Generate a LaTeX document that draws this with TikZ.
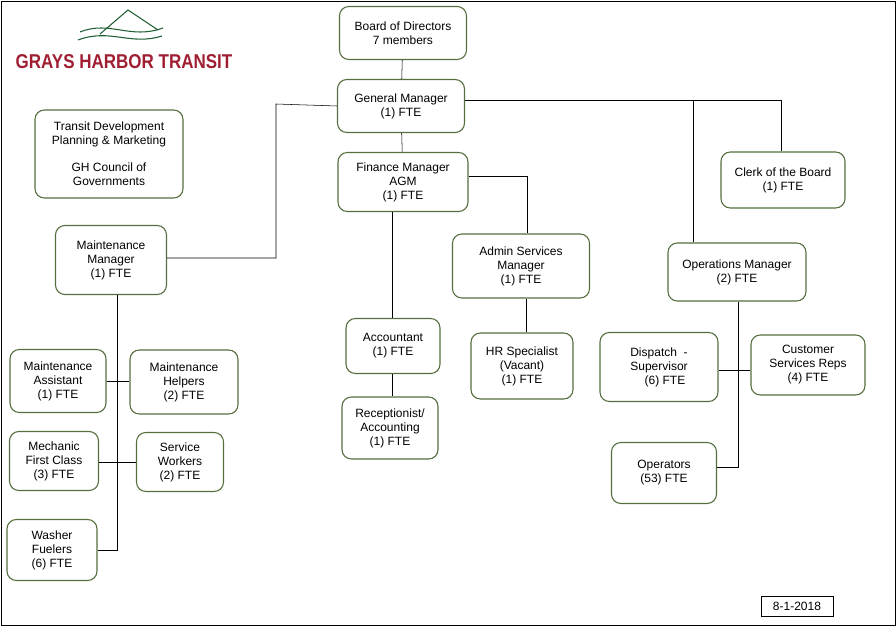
\documentclass[tikz,border=0pt]{standalone}
\usepackage{fontspec}
\setmainfont{Liberation Sans}
\usetikzlibrary{positioning}
\definecolor{boxgreen}{RGB}{84,110,62}
\definecolor{logored}{RGB}{160,30,50}
\definecolor{logogreen}{RGB}{30,95,50}
\begin{document}
\begin{tikzpicture}[
    x=0.75pt, y=-0.75pt,
    unit/.style={draw=boxgreen, thick, rounded corners=7pt, align=center,
      font=\fontsize{9}{10.5}\selectfont, inner sep=0pt},
    link/.style={thin, black},
    every node/.style={color=black}
    ]
\useasboundingbox (0,0) rectangle (896,627);
\draw (1,1) rectangle (895,625);

% logo
\draw[logogreen, thick] (100,34) -- (128,10) -- (158,30);
\draw[logogreen, thick] (80,32) .. controls (110,20) and (130,40) .. (163,28);
\draw[logogreen, thick] (78,40) .. controls (110,28) and (130,46) .. (162,36);
\node[font=\bfseries\fontsize{15}{15}\selectfont, text=logored, xscale=0.85] (logo) at (124,62) {GRAYS HARBOR TRANSIT};

% boxes
\node[unit, minimum width=127*0.75pt, minimum height=53*0.75pt] (board) at (403,33) {Board of Directors\\7 members};
\node[unit, minimum width=127*0.75pt, minimum height=53*0.75pt] (gm) at (401,106) {General Manager\\(1) FTE};
\node[unit, minimum width=130*0.75pt, minimum height=59*0.75pt] (fin) at (403,182) {Finance Manager\\AGM\\(1) FTE};
\node[unit, minimum width=124*0.75pt, minimum height=56*0.75pt] (clerk) at (783,180) {Clerk of the Board\\(1) FTE};
\node[unit, minimum width=148*0.75pt, minimum height=88*0.75pt] (tdp) at (109,154) {Transit Development\\Planning \& Marketing\\[10pt]GH Council of\\Governments};
\node[unit, minimum width=111*0.75pt, minimum height=69*0.75pt] (mm) at (111,260) {Maintenance\\Manager\\(1) FTE};
\node[unit, minimum width=137*0.75pt, minimum height=64*0.75pt] (admin) at (521,266) {Admin Services\\Manager\\(1) FTE};
\node[unit, minimum width=138*0.75pt, minimum height=58*0.75pt] (ops) at (737,272) {Operations Manager\\(2) FTE};
\node[unit, minimum width=94*0.75pt, minimum height=55*0.75pt] (acct) at (393,346) {Accountant\\(1) FTE};
\node[unit, minimum width=102*0.75pt, minimum height=66*0.75pt] (hr) at (522,366) {HR Specialist\\(Vacant)\\(1) FTE};
\node[unit, minimum width=96*0.75pt, minimum height=62*0.75pt] (recp) at (390,428) {Receptionist/\\Accounting\\(1) FTE};
\node[unit, minimum width=96*0.75pt, minimum height=63*0.75pt] (masst) at (58,381) {Maintenance\\Assistant\\(1) FTE};
\node[unit, minimum width=108*0.75pt, minimum height=64*0.75pt] (mhelp) at (184,382) {Maintenance\\Helpers\\(2) FTE};
\node[unit, minimum width=89*0.75pt, minimum height=59*0.75pt] (mech) at (54,461) {Mechanic\\First Class\\(3) FTE};
\node[unit, minimum width=87*0.75pt, minimum height=59*0.75pt] (serv) at (180,462) {Service\\Workers\\(2) FTE};
\node[unit, minimum width=90*0.75pt, minimum height=61*0.75pt] (wash) at (52,550) {Washer\\Fuelers\\(6) FTE};
\node[unit, minimum width=118*0.75pt, minimum height=69*0.75pt] (disp) at (659,367) {Dispatch \ -\\Supervisor\\\quad(6) FTE};
\node[unit, minimum width=114*0.75pt, minimum height=60*0.75pt] (csr) at (808,365) {Customer\\Services Reps\\(4) FTE};
\node[unit, minimum width=105*0.75pt, minimum height=61*0.75pt] (oper) at (664,473) {Operators\\(53) FTE};
\node[draw, thin, minimum width=72*0.75pt, minimum height=20*0.75pt, font=\fontsize{9}{10}\selectfont] (date) at (797,606) {8-1-2018};

% connectors
\draw[link] (board) -- (gm);
\draw[link] (gm) -- (fin);
\draw[link] (gm.west) -- (276,104) -- (276,258) -- (mm.east |- 0,258);
\draw[link] (gm.east |- 0,100) -- (781,100) -- (clerk.north -| 781,0);
\draw[link] (693,100) -- (ops.north -| 693,0);
\draw[link] (fin.east |- 0,176) -- (527,176) -- (admin.north -| 527,0);
\draw[link] (fin.south -| 392,0) -- (acct.north -| 392,0);
\draw[link] (acct.south -| 392,0) -- (recp.north -| 392,0);
\draw[link] (admin.south -| 526,0) -- (hr.north -| 526,0);
\draw[link] (mm.south -| 117,0) -- (117,550) -- (wash.east |- 0,550);
\draw[link] (masst.east |- 0,381) -- (mhelp.west |- 0,381);
\draw[link] (mech.east |- 0,462) -- (serv.west |- 0,462);
\draw[link] (ops.south -| 738,0) -- (738,467) -- (oper.east |- 0,467);
\draw[link] (disp.east |- 0,370) -- (csr.west |- 0,370);
\end{tikzpicture}
\end{document}
